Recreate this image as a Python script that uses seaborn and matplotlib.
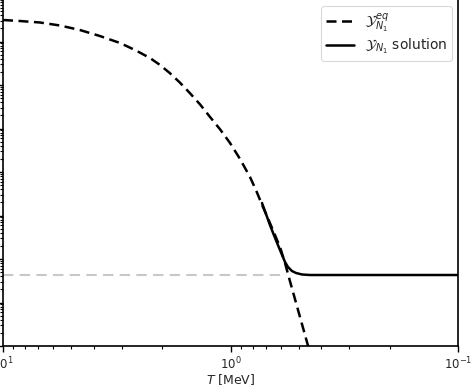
import numpy as np
import pandas as pd
import matplotlib
matplotlib.use("Agg")
import matplotlib.pyplot as plt
import seaborn as sns

# values (T in MeV, log10 of the yield)
T_eq = [10.0, 8.42, 6.88, 5.62, 4.59, 3.75, 3.06, 2.63, 2.26, 2.04, 1.85, 1.67, 1.51,
        1.36, 1.23, 1.11, 1.005, 0.908, 0.821, 0.773, 0.720, 0.671, 0.606, 0.576,
        0.548, 0.495, 0.456, 0.438]
logY_eq = [-2.506, -2.529, -2.563, -2.632, -2.736, -2.874, -3.034, -3.195, -3.379,
           -3.540, -3.724, -3.943, -4.184, -4.448, -4.736, -5.023, -5.333, -5.701,
           -6.115, -6.414, -6.805, -7.172, -7.724, -8.092, -8.506, -9.333, -10.0, -10.32]

T_sol = [0.727, 0.698, 0.671, 0.637, 0.606, 0.576, 0.559, 0.537, 0.515, 0.485, 0.447, 0.1]
logY_sol = [-6.713, -6.966, -7.218, -7.517, -7.793, -8.069, -8.184, -8.276, -8.322,
            -8.356, -8.368, -8.368]

T_frozen = [10.0, 0.57]
logY_frozen = [-8.368, -8.368]

sns.set_style("ticks")
plt.rcParams["font.family"] = ["DejaVu Sans"]
plt.rcParams["mathtext.fontset"] = "dejavusans"

eq = pd.DataFrame({"T": T_eq, "Y": np.power(10.0, logY_eq)})
sol = pd.DataFrame({"T": T_sol, "Y": np.power(10.0, logY_sol)})
frozen = pd.DataFrame({"T": T_frozen, "Y": np.power(10.0, logY_frozen)})

fig = plt.figure(figsize=(4.74, 3.9), dpi=100)
# axes placed so the y tick labels fall off the left edge, like the crop
ax = fig.add_axes([3 / 474, 44 / 390, 455 / 474, 348 / 390])

sns.lineplot(data=frozen, x="T", y="Y", ax=ax, color="#c8c8c8", lw=1.5,
             linestyle=(0, (5, 3)), sort=False)
sns.lineplot(data=eq, x="T", y="Y", ax=ax, color="black", lw=1.8,
             linestyle=(0, (4, 2.2)), sort=False,
             label=r"$\mathcal{Y}_{N_1}^{eq}$")
sns.lineplot(data=sol, x="T", y="Y", ax=ax, color="black", lw=1.8, sort=False,
             label=r"$\mathcal{Y}_{N_1}$ solution")

ax.set_xscale("log")
ax.set_yscale("log")
ax.set_xlim(10, 0.1)
ax.set_ylim(1e-10, 1e-2)
ax.set_xlabel(r"$T$ [MeV]", fontsize=9, labelpad=0)
ax.set_ylabel("")
ax.tick_params(axis="both", which="major", labelsize=8.5, length=4, width=1,
               color="black", pad=3)
ax.tick_params(axis="both", which="minor", length=2.5, width=0.8, color="black")
ax.yaxis.set_major_locator(matplotlib.ticker.LogLocator(base=10, numticks=20))
ax.yaxis.set_minor_locator(matplotlib.ticker.LogLocator(base=10, subs=np.arange(2, 10), numticks=20))
for s in ax.spines.values():
    s.set_color("black")
    s.set_linewidth(1.2)

leg = ax.legend(loc="upper right", fontsize=10, frameon=True, handlelength=2.0,
                borderpad=0.35, labelspacing=0.25, borderaxespad=0,
                bbox_to_anchor=(0.987, 0.977))
leg.get_frame().set_edgecolor("#d0d0d0")
leg.get_frame().set_linewidth(0.8)

fig.savefig("out.png", dpi=100)
